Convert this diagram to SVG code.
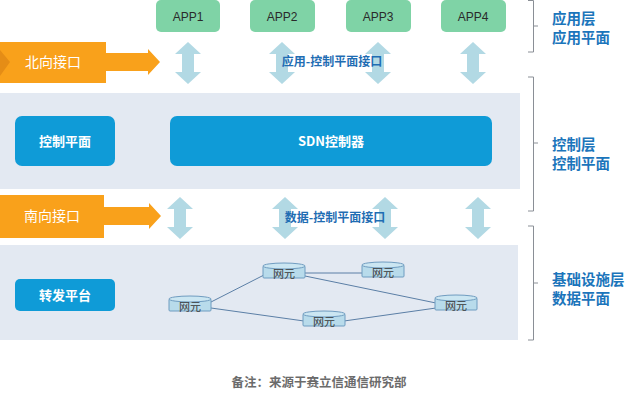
<svg xmlns="http://www.w3.org/2000/svg" width="640" height="400" viewBox="0 0 640 400">
<defs>
<style>
.band{fill:#e3e9f2}
.app rect{fill:#7fd3a6}
.app text{font-family:"Liberation Sans","Noto Sans",sans-serif;font-size:12px;fill:#2a2a2a;text-anchor:middle}
.blue rect{fill:#0f9bd7}
.blue text{font-family:"Noto Sans CJK SC",sans-serif;font-size:13px;font-weight:bold;fill:#fff;text-anchor:middle}
.orange rect,.orange path{fill:#f9a11b}
.orange text{font-family:"Noto Sans CJK SC",sans-serif;font-size:14px;fill:#fff;text-anchor:middle}
.dbl{fill:#b2d9e4}
.iflabel{font-family:"Noto Sans CJK SC",sans-serif;font-size:12px;font-weight:bold;fill:#1f6db3;text-anchor:middle}
.layer{font-family:"Noto Sans CJK SC",sans-serif;font-size:14.5px;font-weight:bold;fill:#1b75bb}
.brk{fill:none;stroke:#8a8f96;stroke-width:1}
.cylbody{fill:#b8dbeb;stroke:#6f9cc0;stroke-width:1}
.cyltop{fill:#cbe6f2;stroke:#6f9cc0;stroke-width:1}
.ne text{font-family:"Noto Sans CJK SC",sans-serif;font-size:11px;fill:#3a3a3a;text-anchor:middle}
.link{stroke:#5b7fa6;stroke-width:1;fill:none}
.cap{font-family:"Noto Sans CJK SC",sans-serif;font-size:12.5px;font-weight:bold;fill:#6b6b6b;text-anchor:middle}
</style>
<path id="darrow" d="M0,-21 L13,-9 L6,-9 L6,9 L13,9 L0,21 L-13,9 L-6,9 L-6,-9 L-13,-9 Z"/>
<g id="cyl">
<rect class="cylbody" x="-21" y="-5" width="42" height="12" rx="1"/>
<ellipse class="cyltop" cx="0" cy="-5" rx="21" ry="3"/>
</g>
</defs>
<rect width="640" height="400" fill="#ffffff"/>
<g id="bands">
<rect class="band" x="0" y="93" width="520" height="96"/>
<rect class="band" x="0" y="245" width="518" height="95"/>
</g>
<g id="connectors">
<g class="dbl">
<use href="#darrow" x="188" y="63"/>
<use href="#darrow" x="282" y="63"/>
<use href="#darrow" x="378" y="63"/>
<use href="#darrow" x="473" y="63"/>
<use href="#darrow" x="180" y="218"/>
<use href="#darrow" x="285" y="218"/>
<use href="#darrow" x="385" y="218"/>
<use href="#darrow" x="478" y="218"/>
</g>
<line class="link" x1="211" y1="302" x2="264" y2="275"/>
<line class="link" x1="211" y1="308" x2="304" y2="321"/>
<line class="link" x1="305" y1="273" x2="363" y2="273"/>
<line class="link" x1="305" y1="276" x2="436" y2="303"/>
<line class="link" x1="344" y1="321" x2="436" y2="308"/>
</g>
<g id="app1" class="app"><rect x="156" y="0" width="64" height="32" rx="5"/><text x="188" y="21">APP1</text></g>
<g id="app2" class="app"><rect x="250" y="0" width="65" height="32" rx="5"/><text x="282" y="21">APP2</text></g>
<g id="app3" class="app"><rect x="346" y="0" width="65" height="32" rx="5"/><text x="378" y="21">APP3</text></g>
<g id="app4" class="app"><rect x="441" y="0" width="65" height="32" rx="5"/><text x="473" y="21">APP4</text></g>
<g id="north" class="orange">
<rect x="0" y="42" width="106" height="41"/>
<path d="M105,53 L148,53 L148,49 L160,62 L148,75 L148,71 L105,71 Z"/>
<path d="M0,50 L10,62 L0,76 Z" style="fill:#e58d16"/>
<text x="53" y="67">北向接口</text>
</g>
<g id="south" class="orange">
<rect x="0" y="195" width="104" height="43"/>
<path d="M103,207 L149,207 L149,203 L161,216 L149,229 L149,225 L103,225 Z"/>
<text x="52" y="221">南向接口</text>
</g>
<text class="iflabel" x="332" y="66">应用-控制平面接口</text>
<text class="iflabel" x="335" y="222">数据-控制平面接口</text>
<g id="ctrlplane" class="blue"><rect x="15" y="116" width="100" height="50" rx="7"/><text x="65" y="146">控制平面</text></g>
<g id="sdn" class="blue"><rect x="170" y="116" width="322" height="50" rx="7"/><text x="331" y="146">SDN控制器</text></g>
<g id="fwd" class="blue"><rect x="15" y="279" width="100" height="32" rx="5"/><text x="65" y="300">转发平台</text></g>
<g id="ne1" class="ne"><use href="#cyl" x="190" y="304"/><text x="190" y="311">网元</text></g>
<g id="ne2" class="ne"><use href="#cyl" x="284" y="271"/><text x="284" y="278">网元</text></g>
<g id="ne3" class="ne"><use href="#cyl" x="383" y="270"/><text x="383" y="277">网元</text></g>
<g id="ne4" class="ne"><use href="#cyl" x="324" y="319"/><text x="324" y="326">网元</text></g>
<g id="ne5" class="ne"><use href="#cyl" x="456" y="303"/><text x="456" y="310">网元</text></g>
<g id="layers">
<path class="brk" d="M528,0.5 L533.5,0.5 L533.5,52 L528,52 M533.5,26 L538,26"/>
<path class="brk" d="M528,77 L533.5,77 L533.5,211 L528,211 M533.5,143 L538,143"/>
<path class="brk" d="M528,226 L533.5,226 L533.5,340 L528,340 M533.5,283 L538,283"/>
<text class="layer" x="552" y="24">应用层</text>
<text class="layer" x="552" y="43">应用平面</text>
<text class="layer" x="552" y="150">控制层</text>
<text class="layer" x="552" y="169">控制平面</text>
<text class="layer" x="552" y="285">基础设施层</text>
<text class="layer" x="552" y="304">数据平面</text>
</g>
<text class="cap" x="319" y="387">备注：来源于赛立信通信研究部</text>
</svg>
